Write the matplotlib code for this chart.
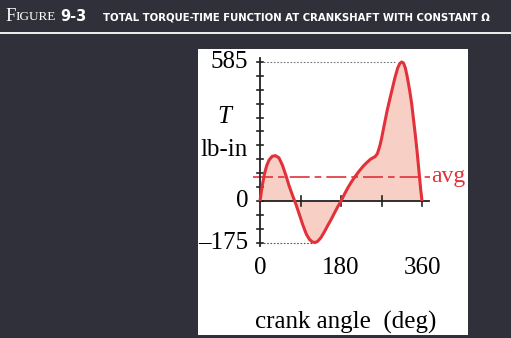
import matplotlib
matplotlib.use("Agg")
import matplotlib.pyplot as plt
import numpy as np

# torque curve (deg, lb-in)
angle = [0, 5, 10, 15, 20, 27, 34, 42, 50, 58, 65, 72, 80, 88, 95, 103, 110, 116,
         122, 128, 135, 143, 150, 158, 165, 172, 180, 188, 195, 203, 211, 220, 230,
         238, 245, 251, 256, 261, 266, 270, 275, 283, 293, 300, 306, 311, 315, 319,
         323, 328, 333, 337, 341, 345, 349, 353, 357, 360]
torque = [0, 65, 115, 150, 172, 188, 191, 182, 150, 105, 62, 25, -15, -60, -100,
          -140, -162, -172, -175, -170, -155, -130, -105, -78, -52, -27, 0, 30, 55,
          80, 102, 125, 148, 163, 175, 182, 187, 200, 230, 262, 310, 385, 465, 520,
          560, 580, 585, 580, 560, 515, 460, 410, 345, 280, 210, 130, 50, 0]
avg = 100
y_labels = ["585", "0", "\u2013175"]
y_label_vals = [585, 0, -175]
x_labels = ["0", "180", "360"]
x_label_vals = [0, 180, 360]

red = "#e2313b"
fill = "#f7cfc4"
serif = "Liberation Serif"

fig = plt.figure(figsize=(5.11, 3.38), dpi=100)
fig.patch.set_facecolor("#2f3039")

# header
fig.text(5 / 511, 0.952, "F", color="white", family=serif, fontsize=13.5, va="center")
fig.text(15 / 511, 0.949, "IGURE", color="white", family=serif, fontsize=9.5, va="center")
fig.text(60 / 511, 0.952, "9-3", color="white", family="DejaVu Sans", fontsize=10.5,
         fontweight="bold", va="center")
fig.text(103 / 511, 0.949, "TOTAL TORQUE-TIME FUNCTION AT CRANKSHAFT WITH CONSTANT \u03a9",
         color="white", family="DejaVu Sans", fontsize=7.3, fontweight="bold", va="center")
fig.add_artist(plt.Line2D([0, 1], [1 - 33 / 338, 1 - 33 / 338], color="white", lw=1.3))

# white panel is the axes
ax = fig.add_axes([198 / 511, 3 / 338, 270 / 511, 286 / 338])
ax.set_facecolor("white")
ax.set_xlim(-137.8, 462.2)
ax.set_ylim(-564, 639.7)
for s in ax.spines.values():
    s.set_visible(False)
ax.set_xticks([])
ax.set_yticks([])

ax.fill_between(angle, torque, 0, color=fill, lw=0, zorder=1)
ax.plot(angle, torque, color=red, lw=2.2, zorder=4, solid_capstyle="butt")

# guide lines to max / min
ax.plot([0, 300], [585, 585], color="#777777", lw=0.8, ls=(0, (1.5, 1.5)), zorder=2)
ax.plot([0, 118], [-175, -175], color="#555555", lw=0.8, ls=(0, (1.5, 1.5)), zorder=2)

# average line
ax.plot([-15, 378], [avg, avg], color=red, lw=1.2, ls=(0, (12, 3, 4, 3)), zorder=3)
ax.text(380, avg + 5, "avg", color=red, family=serif, fontsize=17, va="center", ha="left")

# axes
ax.plot([0, 0], [600, -190], color="#222222", lw=1.3, zorder=3)
ax.plot([0, 375], [0, 0], color="#222222", lw=1.3, zorder=3)
for v in np.arange(-175.5, 600, 58.5):
    ax.plot([-7, 7], [v, v], color="#222222", lw=1.2, zorder=3)
for v in [90, 180, 270, 360]:
    ax.plot([v, v], [-20, 20], color="#222222", lw=1.2, zorder=3)

for lab, v in zip(y_labels, y_label_vals):
    ax.text(-26, v, lab, family=serif, fontsize=18, ha="right", va="center")
for lab, v in zip(x_labels, x_label_vals):
    ax.text(v, -280, lab, family=serif, fontsize=18, ha="center", va="center")

ax.text(-80, 355, "T", family=serif, style="italic", fontsize=18, ha="center", va="center")
ax.text(-80, 215, "lb-in", family=serif, fontsize=18, ha="center", va="center")
ax.text(190, -510, "crank angle  (deg)", family=serif, fontsize=18, ha="center", va="center")

fig.savefig("out.png", dpi=100, facecolor=fig.get_facecolor())
